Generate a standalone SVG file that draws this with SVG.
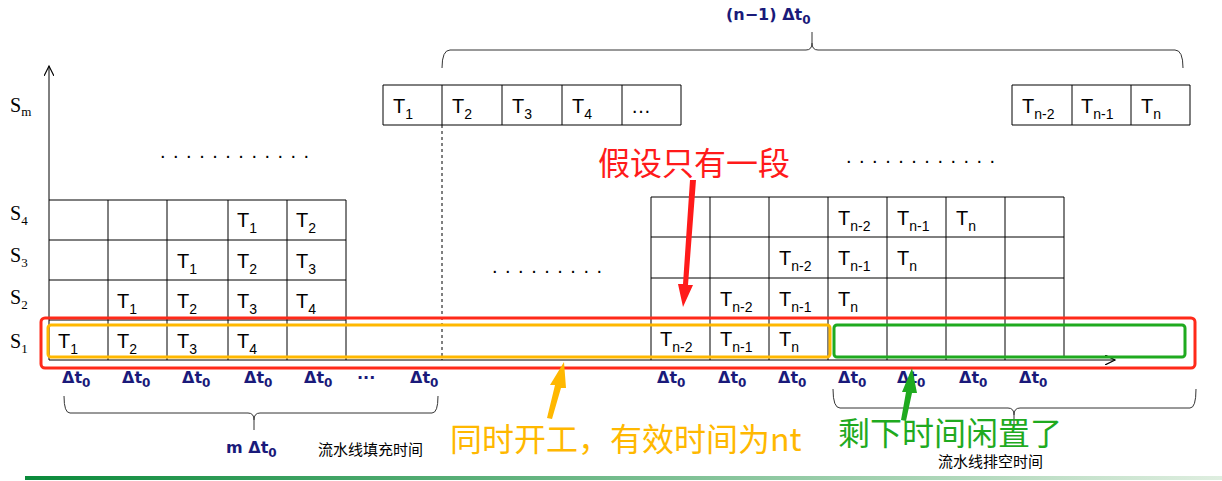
<svg xmlns="http://www.w3.org/2000/svg" width="1222" height="481" viewBox="0 0 1222 481">
<defs>
<style>
.g{fill:none;stroke:#000;stroke-width:1}
.t{font-family:"Liberation Sans",Arial,sans-serif;font-size:20px;fill:#000}
.t tspan{font-size:14px}
.s{font-family:"Liberation Serif",serif;font-size:20px;fill:#000}
.s tspan{font-size:13px}
.d{font-family:"DejaVu Sans",sans-serif;font-weight:bold;font-size:16px;fill:#1a1a7a}
.d tspan{font-size:12px}
.dots{font-family:"Liberation Sans",sans-serif;font-size:20px;letter-spacing:7.5px;fill:#000}
.cn{font-family:"Noto Sans CJK SC",sans-serif;font-size:15px;fill:#000}
.big{font-family:"Noto Sans CJK SC",sans-serif;font-size:32px}
.br{fill:none;stroke:#333;stroke-width:1}
</style>
<linearGradient id="gl" x1="0" x2="1"><stop offset="0" stop-color="#0a8a3a"/><stop offset="1" stop-color="#dfeee0"/></linearGradient>
<marker id="ax" markerWidth="12" markerHeight="10" refX="10" refY="5" orient="auto" markerUnits="userSpaceOnUse"><path d="M0,0 L10,5 L0,10" fill="none" stroke="#000" stroke-width="1.2"/></marker>
</defs>
<rect x="25" y="476" width="1197" height="4" fill="url(#gl)"/>
<g id="axes">
<line x1="49" y1="360" x2="49" y2="66" class="g" stroke-width="1.5" marker-end="url(#ax)"/>
<line x1="49" y1="360" x2="1115" y2="360" class="g" stroke-width="1.5" marker-end="url(#ax)"/>
<line x1="442" y1="125" x2="442" y2="360" class="g" stroke-dasharray="3,3"/>
</g>
<g id="slabels">
<text class="s" x="10" y="112">S<tspan dy="4">m</tspan></text>
<text class="s" x="10" y="220">S<tspan dy="5">4</tspan></text>
<text class="s" x="10" y="262">S<tspan dy="5">3</tspan></text>
<text class="s" x="10" y="304">S<tspan dy="5">2</tspan></text>
<text class="s" x="10" y="348">S<tspan dy="5">1</tspan></text>
</g>
<g id="grid-left">
<path class="g" d="M49,200H346M49,240H346M49,280H346M49,320H346M108,200V360M167,200V360M228,200V360M287,200V360M346,200V360"/>
<text class="t" x="237" y="227">T<tspan dy="6">1</tspan></text>
<text class="t" x="296" y="227">T<tspan dy="6">2</tspan></text>
<text class="t" x="177" y="268">T<tspan dy="6">1</tspan></text>
<text class="t" x="237" y="268">T<tspan dy="6">2</tspan></text>
<text class="t" x="296" y="268">T<tspan dy="6">3</tspan></text>
<text class="t" x="117" y="308">T<tspan dy="6">1</tspan></text>
<text class="t" x="177" y="308">T<tspan dy="6">2</tspan></text>
<text class="t" x="237" y="308">T<tspan dy="6">3</tspan></text>
<text class="t" x="296" y="308">T<tspan dy="6">4</tspan></text>
<text class="t" x="58" y="348">T<tspan dy="6">1</tspan></text>
<text class="t" x="117" y="348">T<tspan dy="6">2</tspan></text>
<text class="t" x="177" y="348">T<tspan dy="6">3</tspan></text>
<text class="t" x="237" y="348">T<tspan dy="6">4</tspan></text>
</g>
<g id="grid-right">
<path class="g" d="M651,197H1064V358M651,237H1064M651,278H1064M651,318H1064M651,197V360M710,197V360M769,197V360M828,197V360M887,197V360M946,197V360M1005,197V360"/>
<text class="t" x="838" y="225">T<tspan dy="6">n-2</tspan></text>
<text class="t" x="897" y="225">T<tspan dy="6">n-1</tspan></text>
<text class="t" x="956" y="225">T<tspan dy="6">n</tspan></text>
<text class="t" x="779" y="265">T<tspan dy="6">n-2</tspan></text>
<text class="t" x="838" y="265">T<tspan dy="6">n-1</tspan></text>
<text class="t" x="897" y="265">T<tspan dy="6">n</tspan></text>
<text class="t" x="720" y="306">T<tspan dy="6">n-2</tspan></text>
<text class="t" x="779" y="306">T<tspan dy="6">n-1</tspan></text>
<text class="t" x="838" y="306">T<tspan dy="6">n</tspan></text>
<text class="t" x="660" y="346">T<tspan dy="6">n-2</tspan></text>
<text class="t" x="720" y="346">T<tspan dy="6">n-1</tspan></text>
<text class="t" x="779" y="346">T<tspan dy="6">n</tspan></text>
</g>
<g id="row-sm">
<path class="g" d="M383,85H681V125H383ZM442,85V125M502,85V125M562,85V125M622,85V125"/>
<text class="t" x="393" y="113">T<tspan dy="6">1</tspan></text>
<text class="t" x="452" y="113">T<tspan dy="6">2</tspan></text>
<text class="t" x="512" y="113">T<tspan dy="6">3</tspan></text>
<text class="t" x="572" y="113">T<tspan dy="6">4</tspan></text>
<text class="t" x="631" y="113">…</text>
<path class="g" d="M1012,85H1190V125H1012ZM1072,85V125M1131,85V125"/>
<text class="t" x="1022" y="113">T<tspan dy="6">n-2</tspan></text>
<text class="t" x="1081" y="113">T<tspan dy="6">n-1</tspan></text>
<text class="t" x="1141" y="113">T<tspan dy="6">n</tspan></text>
</g>
<g id="dots">
<text class="dots" x="160" y="158">............</text>
<text class="dots" x="492" y="273">.........</text>
<text class="dots" x="846" y="163">............</text>
</g>
<g id="deltas">
<text class="d" x="62" y="383">Δt<tspan dy="4">0</tspan></text>
<text class="d" x="122" y="383">Δt<tspan dy="4">0</tspan></text>
<text class="d" x="182" y="383">Δt<tspan dy="4">0</tspan></text>
<text class="d" x="244" y="383">Δt<tspan dy="4">0</tspan></text>
<text class="d" x="304" y="383">Δt<tspan dy="4">0</tspan></text>
<text class="d" x="357" y="383">···</text>
<text class="d" x="410" y="383">Δt<tspan dy="4">0</tspan></text>
<text class="d" x="657" y="383">Δt<tspan dy="4">0</tspan></text>
<text class="d" x="718" y="383">Δt<tspan dy="4">0</tspan></text>
<text class="d" x="778" y="383">Δt<tspan dy="4">0</tspan></text>
<text class="d" x="838" y="383">Δt<tspan dy="4">0</tspan></text>
<text class="d" x="897" y="383">Δt<tspan dy="4">0</tspan></text>
<text class="d" x="959" y="383">Δt<tspan dy="4">0</tspan></text>
<text class="d" x="1019" y="383">Δt<tspan dy="4">0</tspan></text>
<text class="d" x="226" y="453">m Δt<tspan dy="4">0</tspan></text>
<text class="d" x="726" y="20">(n−1) Δt<tspan dy="4">0</tspan></text>
</g>
<g id="braces">
<path class="br" d="M64,396Q64,413 70,413H248Q254,413 254,420V430M254,420Q254,413 260,413H432Q438,413 438,396"/>
<path class="br" d="M833,389Q833,408 840,408H1008Q1014,408 1014,415V425M1014,415Q1014,408 1020,408H1190Q1196,408 1196,389"/>
<path class="br" d="M442,68Q442,50 450,50H806Q812,50 812,43V32M812,43Q812,50 818,50H1175Q1183,50 1183,68"/>
<text class="cn" x="318" y="455">流水线填充时间</text>
<text class="cn" x="938" y="467">流水线排空时间</text>
</g>
<g id="highlights">
<rect x="41" y="318" width="1154" height="50" rx="4" fill="none" stroke="#ff2a1a" stroke-width="3"/>
<rect x="48" y="325" width="782" height="32" rx="3" fill="none" stroke="#ffb800" stroke-width="3"/>
<rect x="834" y="325" width="351" height="32" rx="3" fill="none" stroke="#1faa1f" stroke-width="3"/>
</g>
<g id="annotations">
<text class="big" x="598" y="175" fill="#ff1a1a">假设只有一段</text>
<path d="M696,180 L688,285 L693,285 L683,307 L678,284 L683,284 L690,180Z" fill="#ff1a1a"/>
<text class="big" x="450" y="451" fill="#ffb800">同时开工，有效时间为nt</text>
<path d="M547,418 L555,385 L550,385 L564,362 L566,388 L561,388 L552,419Z" fill="#ffb800"/>
<text class="big" x="838" y="445" fill="#1faa1f">剩下时间闲置了</text>
<path d="M901,420 L906,392 L902,392 L912,368 L917,393 L912,393 L906,421Z" fill="#1faa1f"/>
</g>
</svg>
